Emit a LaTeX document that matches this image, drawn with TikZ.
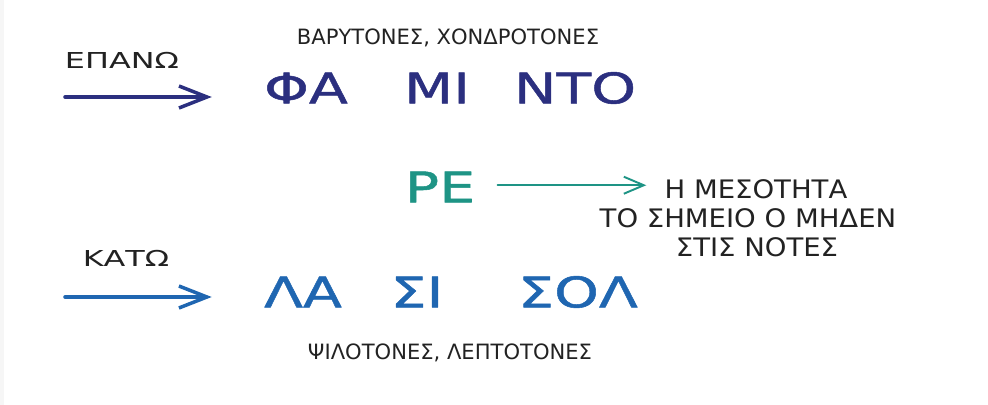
\documentclass[tikz,border=0pt]{standalone}
\usepackage{fontspec}
\setmainfont{DejaVu Sans}
\usetikzlibrary{arrows.meta}
\definecolor{navy}{HTML}{2B2F7F}
\definecolor{seagreen}{HTML}{1E9485}
\definecolor{lowblue}{HTML}{1F66B1}
\definecolor{ink}{HTML}{222222}
\tikzset{
	syl/.style={inner sep=0pt, font=\addfontfeature{FakeStretch=1.35,FakeBold=1.2}\fontsize{24}{24}\selectfont},
	note/.style={inner sep=0pt, text=ink, font=\fontsize{12}{12}\selectfont},
	side/.style={inner sep=0pt, text=ink, font=\addfontfeature{FakeStretch=1.08}\fontsize{14.5}{14.5}\selectfont},
	way/.style={inner sep=0pt, text=ink, font=\addfontfeature{FakeStretch=1.45}\fontsize{12.5}{12.5}\selectfont},
	bigarrow/.style={line width=2pt, -{Straight Barb[length=0.56cm, width=0.44cm, line width=2pt]}},
}
\begin{document}
\begin{tikzpicture}[x=0.02cm, y=-0.02cm, line cap=round, line join=round]
	\useasboundingbox (0,0) rectangle (988,405);
	\fill[gray!7] (0,0) rectangle (4,405);
	% upper row
	\node[way] (up) at (122,60) {ΕΠΑΝΩ};
	\node[note] (bar) at (448,38) {ΒΑΡΥΤΟΝΕΣ, ΧΟΝΔΡΟΤΟΝΕΣ};
	\node[syl, text=navy] (fa) at (306,88) {ΦΑ};
	\node[syl, text=navy] (mi) at (437,88) {ΜΙ};
	\node[syl, text=navy] (nto) at (575,88) {ΝΤΟ};
	\coordinate (in1) at (65,97);
	\draw[bigarrow, navy, shorten >=1.04cm] (in1) -- (in1 -| fa.west);
	% middle
	\node[syl, text=seagreen] (re) at (440,187) {ΡΕ};
	\node[side] (mes) at (756,189) {Η ΜΕΣΟΤΗΤΑ};
	\node[side] (sim) at (748,218) {ΤΟ ΣΗΜΕΙΟ Ο ΜΗΔΕΝ};
	\node[side] (not) at (757,247) {ΣΤΙΣ ΝΟΤΕΣ};
	\draw[seagreen, line width=1.1pt, -{Straight Barb[length=0.4cm, width=0.34cm, line width=1.1pt]},
		shorten <=0.44cm, shorten >=0.36cm] ([yshift=1pt]re.east) -- ([yshift=1pt]re.east -| mes.west);
	% lower row
	\node[way] (down) at (126,258) {ΚΑΤΩ};
	\node[syl, text=lowblue] (la) at (303,292) {ΛΑ};
	\node[syl, text=lowblue] (si) at (417,292) {ΣΙ};
	\node[syl, text=lowblue] (sol) at (578,292) {ΣΟΛ};
	\node[note] (psi) at (450,353) {ΨΙΛΟΤΟΝΕΣ, ΛΕΠΤΟΤΟΝΕΣ};
	\coordinate (in2) at (65,297);
	\draw[bigarrow, lowblue, shorten >=1.04cm] (in2) -- (in2 -| la.west);
\end{tikzpicture}
\end{document}
